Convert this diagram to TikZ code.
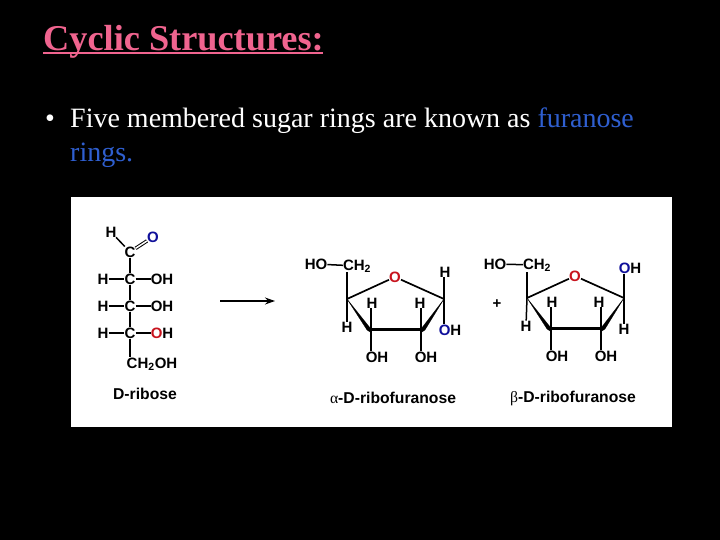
\documentclass[tikz,border=0pt]{standalone}
\usepackage{fontspec}
\usetikzlibrary{arrows.meta}
\setmainfont{Liberation Serif}
\setsansfont{Liberation Sans}
\definecolor{titlepink}{HTML}{F0648F}
\definecolor{furblue}{HTML}{2F5FD0}
\definecolor{oblue}{HTML}{10109A}
\definecolor{ored}{HTML}{C8141E}
\tikzset{
    atom/.style={font=\sffamily\bfseries\fontsize{15}{15}\selectfont,inner sep=0pt,text=black},
    blueatom/.style={atom,text=oblue},
    redatom/.style={atom,text=ored},
    caption/.style={font=\sffamily\bfseries\fontsize{15.7}{15.7}\selectfont,inner sep=0pt},
    bond/.style={line width=1.5pt},
    ringbond/.style={line width=1.7pt},
    thickbond/.style={line width=2.2pt},
    wedgebond/.style={fill=black,draw=black,line width=.2pt},
    slidetext/.style={font=\fontsize{28}{28}\selectfont,inner sep=0pt,anchor=base west,text=white},
}
\newcommand{\CHH}{CH\textsubscript{2}}
\begin{document}
\begin{tikzpicture}[x=1pt,y=-1pt]
    \fill[black] (0,0) rectangle (720,540);
    \fill[white] (71,197) rectangle (672,427);
    % title
    \node[slidetext,font=\bfseries\fontsize{36.3}{36.3}\selectfont,text=titlepink] (title) at (43,50.5) {Cyclic Structures:};
    \coordinate (ulstart) at (43,53);
    \coordinate (ulend) at (323,53);
    \draw[titlepink,line width=1.8pt] (ulstart)--(ulend);
    % bullet text
    \node[slidetext] (bullet) at (45,128) {•};
    \node[slidetext] (lineone) at (70,128) {Five membered sugar rings are known as \textcolor{furblue}{furanose}};
    \node[slidetext,text=furblue] (linetwo) at (70,162) {rings.};
    % D-ribose
    \node[atom] (topH) at (111,232) {H};
    \node[blueatom] (topO) at (153,237) {O};
    \node[atom] (C1) at (130,252) {C};
    \node[atom] (C2) at (130,279) {C};
    \node[atom] (C3) at (130,306) {C};
    \node[atom] (C4) at (130,333) {C};
    \node[atom] (H2) at (103,279) {H};
    \node[atom] (H3) at (103,306) {H};
    \node[atom] (H4) at (103,333) {H};
    \node[atom] (OH2) at (162,279) {OH};
    \node[atom] (OH3) at (162,306) {OH};
    \node[atom] (OH4) at (162,333) {\textcolor{ored}{O}H};
    \node[atom] (C5) at (152,364) {\CHH OH};
    \node[caption] (ribose) at (145,394) {D-ribose};
    \draw[bond] (topH)--(C1);
    \draw[double,double distance=1.5pt,line width=1pt] (C1)--(topO);
    \foreach \a/\b in {C1/C2,C2/C3,C3/C4,H2/C2,C2/OH2,H3/C3,C3/OH3,H4/C4,C4/OH4}{
        \draw[bond] (\a)--(\b);
    }
    \coordinate (C5top) at (130,357);
    \draw[bond] (C4)--(C5top);
    % arrow
    \coordinate (arrowstart) at (220,301);
    \coordinate (arrowend) at (275,301);
    \draw[line width=1.2pt,-{Stealth[length=10pt,width=7pt]}] (arrowstart)--(arrowend);
    % alpha ring
    \node[atom] (aHO) at (316,264) {HO};
    \node[atom] (aCH) at (357,266) {\CHH};
    \node[redatom] (aO) at (395,277) {O};
    \node[atom] (aHtop) at (445,272) {H};
    \coordinate (aL) at (347,299);
    \coordinate (aR) at (444,299);
    \coordinate (aBL) at (371,329);
    \coordinate (aBR) at (421,329);
    \coordinate (aCHb) at (347,272);
    \node[atom] (aHi) at (372,303) {H};
    \node[atom] (aHj) at (420,303) {H};
    \node[atom] (aHlow) at (347,327) {H};
    \node[atom] (aOHr) at (450,330) {\textcolor{oblue}{O}H};
    \node[atom] (aOHi) at (377,357) {OH};
    \node[atom] (aOHj) at (426,357) {OH};
    \node[caption] (alphalabel) at (393,398) {{\rmfamily\mdseries α}-D-ribofuranose};
    \draw[bond] (aHO)--(aCH);
    \draw[bond] (aCHb)--(aL);
    \draw[ringbond] (aL)--(aO) (aO)--(aR);
    \fill[wedgebond] (aL)--(aBL)--++(-1,3)--++(-3,-2)--cycle;
    \fill[wedgebond] (aR)--(aBR)--++(1,3)--++(3,-2)--cycle;
    \draw[line width=3pt] (aBL)--(aBR);
    \draw[bond] (aL)--(aHlow);
    \draw[bond] (aR)--(aR|-aHtop.south);
    \draw[bond] (aR)--(aR|-aOHr.north);
    \draw[thickbond] (aBL)--(aBL|-aHi.south);
    \draw[thickbond] (aBR)--(aBR|-aHj.south);
    \draw[thickbond] (aBL)--(aBL|-aOHi.north);
    \draw[thickbond] (aBR)--(aBR|-aOHj.north);
    % plus
    \node[atom] (plus) at (497,304) {+};
    % beta ring
    \node[atom] (bHO) at (495,264) {HO};
    \node[atom] (bCH) at (537,265) {\CHH};
    \node[redatom] (bO) at (575,276) {O};
    \node[atom] (bOHtop) at (630,268) {\textcolor{oblue}{O}H};
    \coordinate (bL) at (527,298);
    \coordinate (bR) at (624,298);
    \coordinate (bBL) at (551,328);
    \coordinate (bBR) at (601,328);
    \coordinate (bCHb) at (527,272);
    \node[atom] (bHi) at (552,302) {H};
    \node[atom] (bHj) at (599,302) {H};
    \node[atom] (bHlow) at (526,326) {H};
    \node[atom] (bHr) at (624,329) {H};
    \node[atom] (bOHi) at (557,356) {OH};
    \node[atom] (bOHj) at (606,356) {OH};
    \node[caption] (betalabel) at (573,398) {{\rmfamily\mdseries β}-D-ribofuranose};
    \draw[bond] (bHO)--(bCH);
    \draw[bond] (bCHb)--(bL);
    \draw[ringbond] (bL)--(bO) (bO)--(bR);
    \fill[wedgebond] (bL)--(bBL)--++(-1,3)--++(-3,-2)--cycle;
    \fill[wedgebond] (bR)--(bBR)--++(1,3)--++(3,-2)--cycle;
    \draw[line width=3pt] (bBL)--(bBR);
    \draw[bond] (bL)--(bHlow);
    \draw[thickbond] (bR)--(bR|-bHr.north);
    \draw[thickbond] (bR)--(bR|-bOHtop.south);
    \draw[thickbond] (bBL)--(bBL|-bHi.south);
    \draw[thickbond] (bBR)--(bBR|-bHj.south);
    \draw[thickbond] (bBL)--(bBL|-bOHi.north);
    \draw[thickbond] (bBR)--(bBR|-bOHj.north);
\end{tikzpicture}
\end{document}
